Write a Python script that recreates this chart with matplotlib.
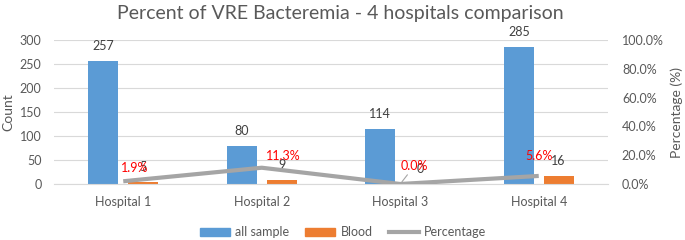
import matplotlib
matplotlib.use("Agg")
import matplotlib.pyplot as plt
import numpy as np
from matplotlib.lines import Line2D
from matplotlib.patches import Patch

plt.rcParams['font.family'] = ['Lato', 'DejaVu Sans']

hospitals = ["Hospital 1", "Hospital 2", "Hospital 3", "Hospital 4"]
all_sample = [257, 80, 114, 285]
blood = [5, 9, 0, 16]
percentage = [1.9, 11.3, 0.0, 5.6]
pct_labels = ["1.9%", "11.3%", "0.0%", "5.6%"]

BLUE = "#5B9BD5"
ORANGE = "#ED7D31"
GRAY = "#A5A5A5"
TXT = "#595959"
GRID = "#D9D9D9"

W, H = 685, 240
fig = plt.figure(figsize=(W / 100, H / 100), dpi=100)
ax = fig.add_axes([54 / W, 1 - 184 / H, (608 - 54) / W, (184 - 40) / H])
ax2 = ax.twinx()

x = np.arange(len(hospitals))
bw = 0.217
off = 0.144
ax.bar(x - off, all_sample, bw, color=BLUE, zorder=2)
ax.bar(x + off, blood, bw, color=ORANGE, zorder=2)

ax.set_xlim(-0.5, 3.5)
ax.set_ylim(0, 300)
ax.set_yticks(range(0, 301, 50))
ax.grid(axis='y', color=GRID, linewidth=0.8, zorder=0)
ax.set_axisbelow(True)
for s in ['top', 'right', 'left']:
    ax.spines[s].set_visible(False)
ax.spines['bottom'].set_color(GRID)
ax.tick_params(axis='both', length=0, colors=TXT, labelsize=9)
ax.set_xticks(x)
ax.set_xticklabels(hospitals)
ax.tick_params(axis='x', pad=9)
ax.tick_params(axis='y', pad=9)
ax.set_ylabel("Count", color=TXT, fontsize=10, labelpad=4)

for xi, v in zip(x, all_sample):
    ax.annotate(str(v), (xi - off, v), xytext=(0, 9), textcoords='offset pixels',
                ha='center', va='bottom', color="#404040", fontsize=9)
for xi, v in zip(x, blood):
    ax.annotate(str(v), (xi + off, v), xytext=(0, 9), textcoords='offset pixels',
                ha='center', va='bottom', color="#404040", fontsize=9)

ax2.plot(x, percentage, color=GRAY, linewidth=3, zorder=3, solid_capstyle='butt')
ax2.set_ylim(0, 100)
ax2.set_yticks(range(0, 101, 20))
ax2.set_yticklabels([f"{v:.1f}%" for v in range(0, 101, 20)])
for s in ['top', 'right', 'left', 'bottom']:
    ax2.spines[s].set_visible(False)
ax2.tick_params(axis='y', length=0, colors=TXT, labelsize=9, pad=10)
ax2.set_ylabel("Percentage (%)", color=TXT, fontsize=10, labelpad=5)

offsets = [(11, 13), (22, 12), (14, 18), (0, 20)]
for i, (xi, p) in enumerate(zip(x, percentage)):
    dx, dy = offsets[i]
    kw = {}
    if i == 2:
        kw = dict(arrowprops=dict(arrowstyle='-', color=GRAY, lw=0.8, shrinkA=0, shrinkB=2))
    ax2.annotate(pct_labels[i], (xi, p), xytext=(dx, dy), textcoords='offset pixels',
                 ha='center', va='center', color="#FF0000", fontsize=9, **kw)

fig.text(340 / W, 1 - 13 / H, "Percent of VRE Bacteremia - 4 hospitals comparison",
         ha='center', va='center', color=TXT, fontsize=14)

handles = [Patch(color=BLUE, label="all sample"), Patch(color=ORANGE, label="Blood"),
           Line2D([0], [0], color=GRAY, lw=3, label="Percentage")]
fig.legend(handles=handles, loc='center', bbox_to_anchor=(343 / W, 1 - 232 / H), ncol=3,
           frameon=False, fontsize=9, labelcolor=TXT, handlelength=2.4, handleheight=0.6,
           columnspacing=1.3, handletextpad=0.4)

fig.savefig("out.png", dpi=100)
